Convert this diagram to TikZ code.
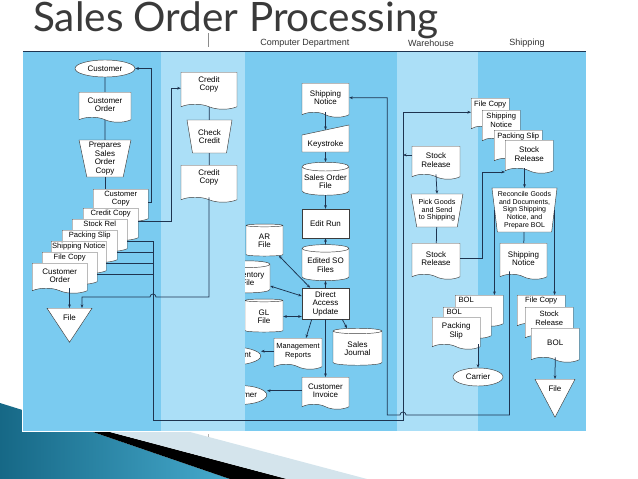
\documentclass[tikz,border=0pt]{standalone}
\usepackage{fontspec}
\setmainfont{Liberation Sans}
\newfontfamily\titlefont{Lato}
\usetikzlibrary{shapes.geometric, shapes.symbols, arrows.meta, calc, positioning}

\definecolor{lanedark}{RGB}{122,203,240}
\definecolor{lanelight}{RGB}{171,223,247}
\definecolor{flowline}{RGB}{30,52,80}
\definecolor{shapeline}{RGB}{60,60,60}
\definecolor{tealdark}{RGB}{22,104,134}
\definecolor{teallight}{RGB}{70,170,205}
\definecolor{palewedge}{RGB}{212,228,236}
\definecolor{titlegray}{RGB}{58,58,58}

\begin{document}
\begin{tikzpicture}[
  x=1pt, y=-1pt,
  every node/.style={font=\fontsize{8}{8.5}\selectfont},
  docbase/.style={
    tape, tape bend top=none, tape bend bottom=out and in,
    tape bend height=5pt,
    draw=shapeline, fill=white, line width=0.45pt, inner sep=1pt
  },
  doc/.style={docbase, align=center, minimum width=47pt},
  topdoc/.style n args={3}{
    docbase, minimum width=#1, inner xsep=0pt,
    font=\fontsize{7.6}{8.3}\selectfont,
    execute at begin node={\begin{minipage}[c][#2][t]{#1}\vspace*{#3}\centering},
    execute at end node={\end{minipage}}
  },
  proc/.style={
    rectangle, draw=shapeline, fill=white, line width=0.45pt,
    align=center, inner sep=1pt, minimum width=47pt
  },
  disk/.style={
    cylinder, shape border rotate=90, aspect=0.2,
    draw=shapeline, fill=white, line width=0.45pt,
    align=center, inner sep=0.5pt
  },
  manual/.style={
    trapezium, shape border rotate=180, trapezium stretches=true,
    draw=shapeline, fill=white, line width=0.45pt,
    align=center, inner sep=0.5pt
  },
  term/.style={
    ellipse, draw=shapeline, fill=white, line width=0.45pt, inner sep=0pt
  },
  offline/.style={
    isosceles triangle, shape border rotate=270, isosceles triangle stretches,
    draw=shapeline, fill=white, line width=0.45pt,
    minimum width=45pt, minimum height=34pt, inner sep=0pt, anchor=north
  },
  header/.style={font=\fontsize{9}{9}\selectfont, text=black!80},
  flow/.style={draw=flowline, line width=0.75pt},
  arrow/.style={flow, -{Stealth[length=3.6pt, width=2.8pt]}},
  twoway/.style={flow, {Stealth[length=3.6pt, width=2.8pt]}-{Stealth[length=3.6pt, width=2.8pt]}}
]
\useasboundingbox (0,0) rectangle (638,479);

\shade[left color=tealdark, right color=teallight] (0,403) -- (93,432) -- (230,479) -- (0,479) -- cycle;
\fill[black] (93,432) -- (110,432) -- (287,479) -- (230,479) -- cycle;
\fill[palewedge] (110,432) -- (190,432) -- (367,479) -- (287,479) -- cycle;
\node[anchor=base west, inner sep=0pt, text=titlegray, font=\titlefont\fontsize{40.5}{40.5}\selectfont] (title) at (33,31) {Sales Order Processing};
\draw[black!45, line width=0.6pt] (208,33) -- (208,47);
\draw[black!30, line width=0.5pt] (208,434) -- (208,437);

\fill[lanedark] (245,52) rectangle (586,431);
\fill[lanelight] (397,52) rectangle (478,431);
\node[header] (hcomp) at (305,43) {Computer Department};
\node[header] (hware) at (431,43) {Warehouse};
\node[header] (hship) at (527,43) {Shipping};

\node[doc, anchor=north, minimum height=34pt] (shipcd) at (325.5,83) {Shipping\\Notice};
\coordinate (keytop) at (325.5,130);
\coordinate (keybot) at (325.5,152);
\filldraw[draw=shapeline, fill=white, line width=0.45pt] (302,152) -- (349,152) -- (349,125) -- (302,135) -- cycle;
\node[inner sep=0pt] (key) at (325.5,144) {Keystroke};
\node[disk, minimum width=47pt, minimum height=33pt] (sofile) at (325.5,181.5) {Sales Order\\File};
\node[proc, minimum height=29pt] (edit) at (325.5,223.5) {Edit Run};
\node[disk, minimum width=47pt, minimum height=36pt] (editso) at (325.5,265) {Edited SO\\Files};
\node[proc, minimum height=31pt] (dau) at (325.5,303.5) {Direct\\Access\\Update};
\node[disk, minimum width=37pt, minimum height=32pt] (arfile) at (264.5,241) {AR\\File};
\node[disk, minimum width=44pt, minimum height=32pt] (invfile) at (248,279) {Inventory\\File};
\node[disk, minimum width=38pt, minimum height=33pt] (glfile) at (264,316.5) {GL\\File};
\node[disk, minimum width=49pt, minimum height=37pt] (sj) at (357.5,348.5) {Sales\\Journal};
\node[doc, anchor=north, minimum width=48pt, minimum height=31pt, inner xsep=0pt, font=\fontsize{7.4}{8.3}\selectfont] (mgmtrep) at (298,338) {Management\\Reports};
\node[term, anchor=east, minimum width=52pt, minimum height=19pt] (mgmt) at (261,356) {Management};
\node[doc, anchor=north, minimum height=32pt] (custinv) at (325.5,377) {Customer\\Invoice};
\node[term, anchor=east, minimum width=54pt, minimum height=19pt] (custb) at (267,395) {Customer};

\node[doc, anchor=north, minimum width=48pt, minimum height=33pt] (srw1) at (436,146) {Stock\\Release};
\node[manual, minimum width=52pt, minimum height=33pt, trapezium angle=77, font=\fontsize{7.2}{7.6}\selectfont] (pick) at (437,210.5) {Pick Goods\\and Send\\to Shipping};
\node[doc, anchor=north, minimum width=48pt, minimum height=36pt] (srw2) at (436,243) {Stock\\Release};

\node[topdoc={38pt}{26pt}{2pt}, anchor=north west] (fcs) at (471,98) {File Copy};
\node[topdoc={38pt}{26pt}{2pt}, anchor=north west] (sns) at (482,110) {Shipping\\Notice};
\node[topdoc={48pt}{26pt}{1.5pt}, anchor=north west] (pss) at (494,130) {Packing Slip};
\node[doc, anchor=north west, minimum width=48pt, minimum height=33pt] (srs) at (505,140) {Stock\\Release};
\node[manual, minimum width=65pt, minimum height=44pt, trapezium angle=82, font=\fontsize{7}{7.7}\selectfont] (recon) at (524.5,210) {Reconcile Goods\\and Documents,\\Sign Shipping\\Notice, and\\Prepare BOL};
\node[doc, anchor=north, minimum height=36pt] (snship) at (523.5,243) {Shipping\\Notice};

\node[topdoc={48pt}{24pt}{0.5pt}, anchor=north west] (bol1) at (455,295) {BOL\hspace*{26pt}\mbox{}};
\node[topdoc={48pt}{24pt}{0.5pt}, anchor=north west] (bol2) at (443,307) {BOL\hspace*{26pt}\mbox{}};
\node[doc, anchor=north west, minimum width=48pt, minimum height=32pt] (psl) at (432,317) {Packing\\Slip};
\node[term, minimum width=50pt, minimum height=18pt] (carrier) at (478,377) {Carrier};
\node[topdoc={48pt}{26pt}{1pt}, anchor=north west] (fcr) at (517,295) {File Copy};
\node[topdoc={48pt}{26pt}{3pt}, anchor=north west] (srr) at (525,307) {Stock\\Release};
\node[doc, anchor=north west, minimum width=48pt, minimum height=34pt] (bolr) at (531,328) {BOL};
\node[offline, minimum width=40pt, minimum height=38pt] (filer) at (555,379) {File};

\draw[arrow] (shipcd.south) -- (keytop);
\draw[arrow] (keybot) -- (sofile);
\draw[arrow] (sofile) -- (edit);
\draw[arrow] (editso) -- (edit);
\draw[arrow] (dau) -- (editso);
\draw[twoway] (arfile) -- (dau);
\draw[twoway] (invfile) -- (dau);
\draw[twoway] (glfile.east) -- (glfile.east -| dau.west);
\draw[arrow] ($(dau.south west)+(10,0)$) -- ($(mgmtrep.north)+(8,0)$);
\draw[arrow] ($(dau.south east)+(-7,0)$) -- (sj);
\draw[arrow] (dau) -- (custinv);
\draw[arrow] (mgmtrep.west) -- (mgmtrep.west -| mgmt.east);
\draw[arrow] (custinv.west) -- (custinv.west -| custb.east);

\draw[arrow] (srw1.south) -- (pick.north);
\draw[flow] (pick) -- (srw2);
\draw[arrow] (srw2.east) -| ($(srs.north west)+(-23,32)$) -- ($(srs.north west)+(0,32)$);
\draw[arrow] (recon.north |- srs.south) -- (recon.north);
\draw[flow] (recon) -- (snship);
\draw[arrow] (recon.west) -- (recon.west |- bol1.north);
\draw[arrow] (recon.east) -- (recon.east |- fcr.north);
\draw[arrow] (carrier.north |- psl.south) -- (carrier.north);
\draw[arrow] (bolr.south) -- (filer.north);

\coordinate (hopb) at (403,415);
\draw[arrow] ($(snship.south)+(-14,-3)$) |- ($(hopb)+(3,0)$) arc[start angle=0, end angle=-180, radius=3] -| ($(shipcd.east)+(38,0)$) -- (shipcd.east);

\fill[lanedark] (22,50) rectangle (245,431);
\fill[lanelight] (161,50) rectangle (245,431);
\draw[flowline, line width=0.6pt] (22,51.5) -- (586,51.5);
\draw[white, line width=1pt] (22,50) rectangle (586,431);

\node[term, minimum width=60pt, minimum height=17pt] (cust) at (105,68.5) {Customer};
\node[doc, anchor=north, minimum width=52pt, minimum height=30pt] (custord) at (105,92) {Customer\\Order};
\node[manual, minimum width=52pt, minimum height=37pt, trapezium angle=78] (prep) at (105,158.5) {Prepares\\Sales\\Order\\Copy};

\node[topdoc={55pt}{25pt}{0.5pt}, anchor=north west] (cc) at (93,189) {Customer\\Copy};
\node[topdoc={55pt}{25pt}{0.5pt}, anchor=north west] (crc) at (83,208) {Credit Copy};
\node[topdoc={55pt}{25pt}{0.5pt}, anchor=north west] (sr) at (72,219) {Stock Rel};
\node[topdoc={55pt}{25pt}{0.5pt}, anchor=north west] (ps) at (62,230) {Packing Slip};
\node[topdoc={55pt}{25pt}{0.5pt}, anchor=north west] (sn) at (51,241) {Shipping Notice};
\node[topdoc={55pt}{25pt}{0.5pt}, anchor=north west] (fc) at (42,252) {File Copy};
\node[doc, anchor=north west, minimum width=55pt, minimum height=30pt] (co) at (32,263) {Customer\\Order};

\node[topdoc={56pt}{30pt}{3pt}, anchor=north, font=\fontsize{8}{8.5}\selectfont] (crc1) at (209,72) {Credit\\Copy};
\node[manual, minimum width=45pt, minimum height=33pt, trapezium angle=76] (check) at (209.5,136.5) {Check\\Credit};
\node[topdoc={56pt}{30pt}{3pt}, anchor=north, font=\fontsize{8}{8.5}\selectfont] (crc2) at (209,165) {Credit\\Copy};
\node[offline] (file1) at (69.5,308) {File};

\draw[flow] (cust) -- (custord);
\draw[flow] (custord) -- (prep);
\draw[flow] (prep.south) -- (prep.south |- cc.north);
\draw[arrow] (cc.east) -- ++(3,0) |- (cust.east);
\draw[arrow] (crc.east) -| ($(crc1.west)+(-9,0)$) -- (crc1.west);
\draw[flow] (crc1) -- (check);
\draw[flow] (check) -- (crc2);
\coordinate (hopa) at (153,297);
\draw[arrow] (crc2.south) |- ($(hopa)+(3,0)$) arc[start angle=0, end angle=-180, radius=3] -| ($(file1.north)+(12.5,0)$);
\draw[arrow] (file1.north |- co.south) -- (file1.north);

\coordinate (trunk) at (153,241);
\coordinate (wbus) at (403,420);
\coordinate (srtap) at ($(srw1.north west)+(0,9)$);
\draw[flow] ($(sr.north east)+(0,22)$) -- (trunk);
\draw[flow] ($(ps.north east)+(0,22)$) -| (trunk);
\draw[flow] ($(sn.north east)+(0,22)$) -| (trunk);
\draw[flow] ($(fc.north east)+(0,22)$) -| (trunk);
\draw[arrow] (trunk) |- (wbus) |- (fcs.west);
\draw[arrow] (srtap) -- (srtap -| wbus);

\end{tikzpicture}
\end{document}
